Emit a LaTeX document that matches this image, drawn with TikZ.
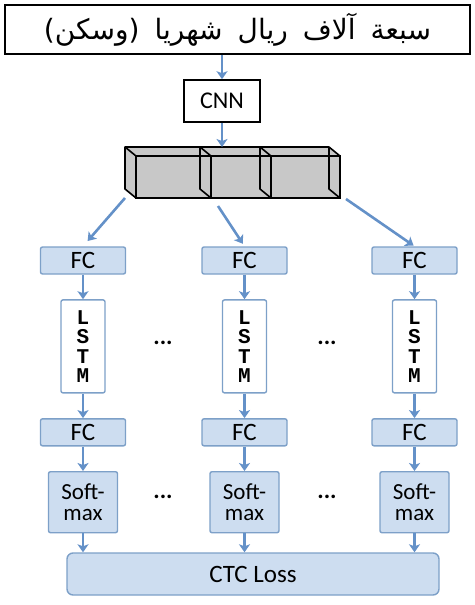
\documentclass[tikz,border=0pt]{standalone}
\usepackage{fontspec}
\setmainfont{Carlito}
\newfontfamily\arabicfont[Script=Arabic]{DejaVu Sans}
\newfontfamily\lstmfont{Liberation Mono}
\TeXXeTstate=1
\usetikzlibrary{arrows.meta,positioning,calc}
\definecolor{ocrBlue}{HTML}{6491C8}
\definecolor{ocrEdge}{HTML}{7DA0C8}
\definecolor{ocrFill}{HTML}{CDDDF0}
\definecolor{ocrGrey}{HTML}{C8C8C8}
\tikzset{
  plain box/.style={draw=black,line width=1.6pt,fill=white,inner sep=0pt},
  layer box/.style={draw=ocrEdge,line width=1.4pt,rounded corners=2pt,fill=ocrFill,inner sep=0pt,align=center},
  fc box/.style={layer box,minimum width=85pt,minimum height=27pt,font=\fontsize{25}{25}\selectfont},
  lstm box/.style={layer box,fill=white,minimum width=44pt,minimum height=93pt,font=\fontsize{21}{19.5}\selectfont\lstmfont\bfseries},
  soft box/.style={layer box,minimum width=69pt,minimum height=61pt,font=\fontsize{23}{21}\selectfont},
  gap dots/.style={font=\fontsize{24}{24}\selectfont\bfseries},
  flow arrow/.style={-{Stealth[length=8pt,width=11pt,inset=2pt]},line width=2.6pt,draw=ocrBlue}
}
\begin{document}
\begin{tikzpicture}[x=1pt,y=-1pt,node distance=24.5pt]
\useasboundingbox (0,0) rectangle (474,605);
\node[plain box,minimum width=465pt,minimum height=49pt] (label) at (237.5,29.5)
  {\arabicfont\fontsize{28}{28}\selectfont\spaceskip=15pt\beginR سبعة آلاف ريال شهريا (وسكن)\endR};
\node[plain box,minimum width=76pt,minimum height=42pt,font=\fontsize{24}{24}\selectfont] (cnn) at (222,101) {CNN};
% feature maps cuboid
\fill[ocrGrey] (125,147) -- (329,147) -- (340,156) -- (340,198) -- (136,198) -- (125,189) -- cycle;
\node[draw=black,line width=1.6pt,minimum width=204pt,minimum height=42pt,inner sep=0pt] (maps) at (238,177) {};
\draw[line width=1.6pt,line join=round] (136,198) -- (125,189) -- (125,147) -- (329,147) (125,147) -- (136,156);
\draw[line width=1.6pt,line join=round] (200,147) -- (200,189) -- (211,198) -- (211,156) -- cycle
  (260,147) -- (260,189) -- (271,198) -- (271,156) -- cycle
  (329,147) -- (329,189) -- (340,198) -- (340,156) -- cycle;
\coordinate (mapstop) at (222,147);
\coordinate (outL) at (125,198);
\coordinate (outM) at (218,206);
\coordinate (outR) at (346,199);
% columns
\node[fc box] (fcinA) at (83,260.5) {FC};
\node[lstm box,below=of fcinA] (lstmA) {L\\S\\T\\M};
\node[fc box,below=of lstmA] (fcoutA) {FC};
\node[soft box,below=of fcoutA] (softA) {Soft-\\max};
\node[fc box] (fcinB) at (244.5,260.5) {FC};
\node[lstm box,below=of fcinB] (lstmB) {L\\S\\T\\M};
\node[fc box,below=of lstmB] (fcoutB) {FC};
\node[soft box,below=of fcoutB] (softB) {Soft-\\max};
\node[fc box] (fcinC) at (414.5,260.5) {FC};
\node[lstm box,below=of fcinC] (lstmC) {L\\S\\T\\M};
\node[fc box,below=of lstmC] (fcoutC) {FC};
\node[soft box,below=of fcoutC] (softC) {Soft-\\max};
\node[gap dots] (dotsA) at (163,343) {...};
\node[gap dots] (dotsB) at (327,343) {...};
\node[gap dots] (dotsC) at (163,497) {...};
\node[gap dots] (dotsD) at (327,497) {...};
\node[layer box,rounded corners=6pt,minimum width=372pt,minimum height=42pt,font=\fontsize{25}{25}\selectfont] (ctc) at (253,574) {CTC Loss};
% arrows
\draw[flow arrow] (label.south -| cnn) -- (cnn);
\draw[flow arrow] (cnn) -- (mapstop);
\draw[flow arrow,shorten >=7pt] (outL) -- (fcinA.north);
\draw[flow arrow,shorten >=3pt] (outM) -- (fcinB.north);
\draw[flow arrow,shorten >=1pt] (outR) -- (fcinC.north);
\draw[flow arrow] (fcinA) -- (lstmA); \draw[flow arrow] (lstmA) -- (fcoutA); \draw[flow arrow] (fcoutA) -- (softA);
\draw[flow arrow] (fcinB) -- (lstmB); \draw[flow arrow] (lstmB) -- (fcoutB); \draw[flow arrow] (fcoutB) -- (softB);
\draw[flow arrow] (fcinC) -- (lstmC); \draw[flow arrow] (lstmC) -- (fcoutC); \draw[flow arrow] (fcoutC) -- (softC);
\draw[flow arrow] (softA) -- (softA |- ctc.north);
\draw[flow arrow] (softB) -- (softB |- ctc.north);
\draw[flow arrow] (softC) -- (softC |- ctc.north);
\end{tikzpicture}
\end{document}
